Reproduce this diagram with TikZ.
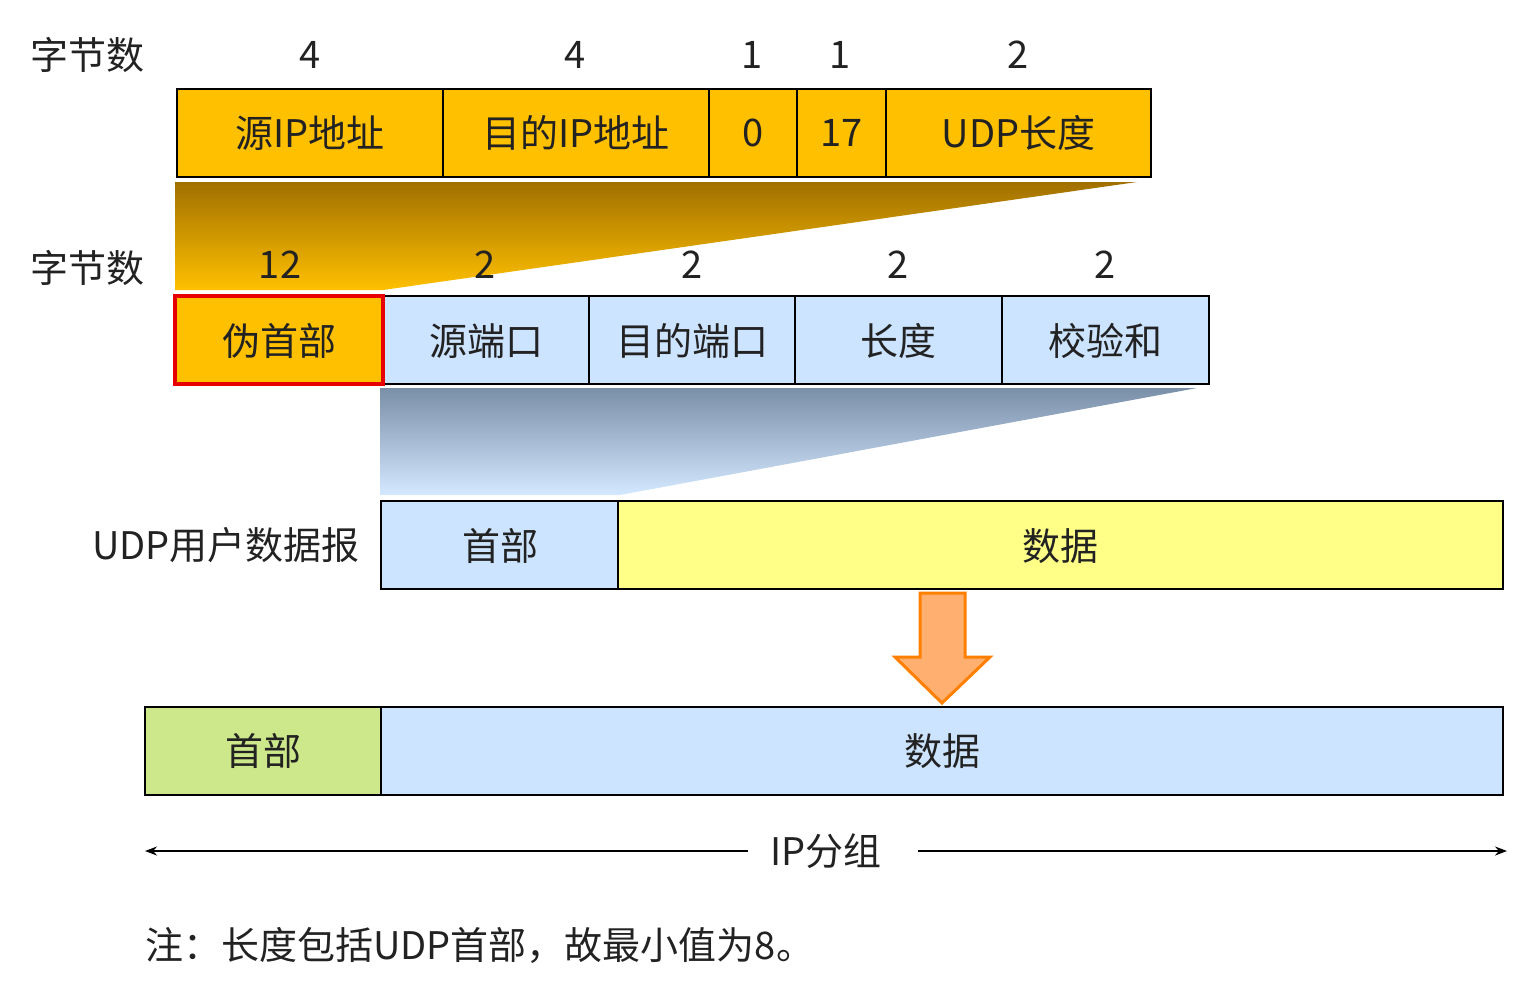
\documentclass[tikz,border=0pt]{standalone}
\usepackage{fontspec}
\setmainfont{Noto Sans CJK SC}
\usetikzlibrary{arrows.meta}
\definecolor{gold}{HTML}{FFC000}
\definecolor{lblue}{HTML}{CCE4FF}
\definecolor{lyel}{HTML}{FFFF88}
\definecolor{lgreen}{HTML}{CCE88A}
\definecolor{txt}{HTML}{222222}
\begin{document}
\begin{tikzpicture}[x=0.5pt,y=-0.5pt,
  box/.style={draw=black,line width=0.8pt},
  lab/.style={font=\fontsize{19}{22}\selectfont,text=txt,inner sep=0pt},
  every node/.style={lab}]
\useasboundingbox (0,0) rectangle (1521,998);
% top row
\node at (88,55) {字节数};
\foreach \x/\t in {310/4,575/4,752/1,840/1,1018/2} \node at (\x,55) {\t};
\foreach \a/\b/\t/\n in {177/443/源IP地址/t1,443/709/目的IP地址/t2,709/797/0/t3,797/886/17/t4,886/1151/UDP长度/t5}{
  \draw[box,fill=gold] (\a,89) rectangle (\b,177);
  \node (\n) at ({(\a+\b)/2},133) {\t};}
\shade[top color={rgb,255:red,160;green,112;blue,0},bottom color=gold] (175,182) -- (1137,182) -- (383,290) -- (175,290) -- cycle;
% second row
\node at (88,268) {字节数};
\foreach \x/\t in {280/12,485/2,692/2,898/2,1105/2} \node at (\x,265) {\t};
\foreach \a/\b/\t/\n in {383/589/源端口/s2,589/795/目的端口/s3,795/1002/长度/s4,1002/1209/校验和/s5}{
  \draw[box,fill=lblue] (\a,296) rectangle (\b,384);
  \node (\n) at ({(\a+\b)/2},341) {\t};}
\draw[draw={rgb,255:red,230;green,0;blue,0},line width=2pt,fill=gold] (175,296) rectangle (383,384);
\node (s1) at (279,341) {伪首部};
\shade[top color={rgb,255:red,122;green,143;blue,168},bottom color={rgb,255:red,212;green,232;blue,255}] (380,388) -- (1197,388) -- (620,495) -- (380,495) -- cycle;
% UDP row
\node[anchor=east] at (360,545) {UDP用户数据报};
\draw[box,fill=lblue] (381,501) rectangle (618,589);
\draw[box,fill=lyel] (618,501) rectangle (1503,589);
\node (u1) at (500,546) {首部};
\node (u2) at (1060,546) {数据};
% arrow
\draw[draw={rgb,255:red,255;green,128;blue,0},line width=1.5pt,fill={rgb,255:red,255;green,176;blue,112}]
 (920,593) -- (965,593) -- (965,657) -- (990,657) -- (942,703) -- (895,657) -- (920,657) -- cycle;
% bottom row
\draw[box,fill=lgreen] (145,707) rectangle (381,795);
\draw[box,fill=lblue] (381,707) rectangle (1503,795);
\node (b1) at (263,751) {首部};
\node (b2) at (942,751) {数据};
% IP group arrow
\coordinate (l) at (145,851); \coordinate (r) at (1507,851);
\node (ip) at (826,851) {IP分组};
\draw[-{Stealth[length=6pt]},line width=0.7pt] (ip.west) ++(-22,0) -- (l);
\draw[-{Stealth[length=6pt]},line width=0.7pt] (ip.east) ++(36,0) -- (r);
\node[anchor=west] (note) at (145,945) {注：长度包括UDP首部，故最小值为8。};
\end{tikzpicture}
\end{document}
